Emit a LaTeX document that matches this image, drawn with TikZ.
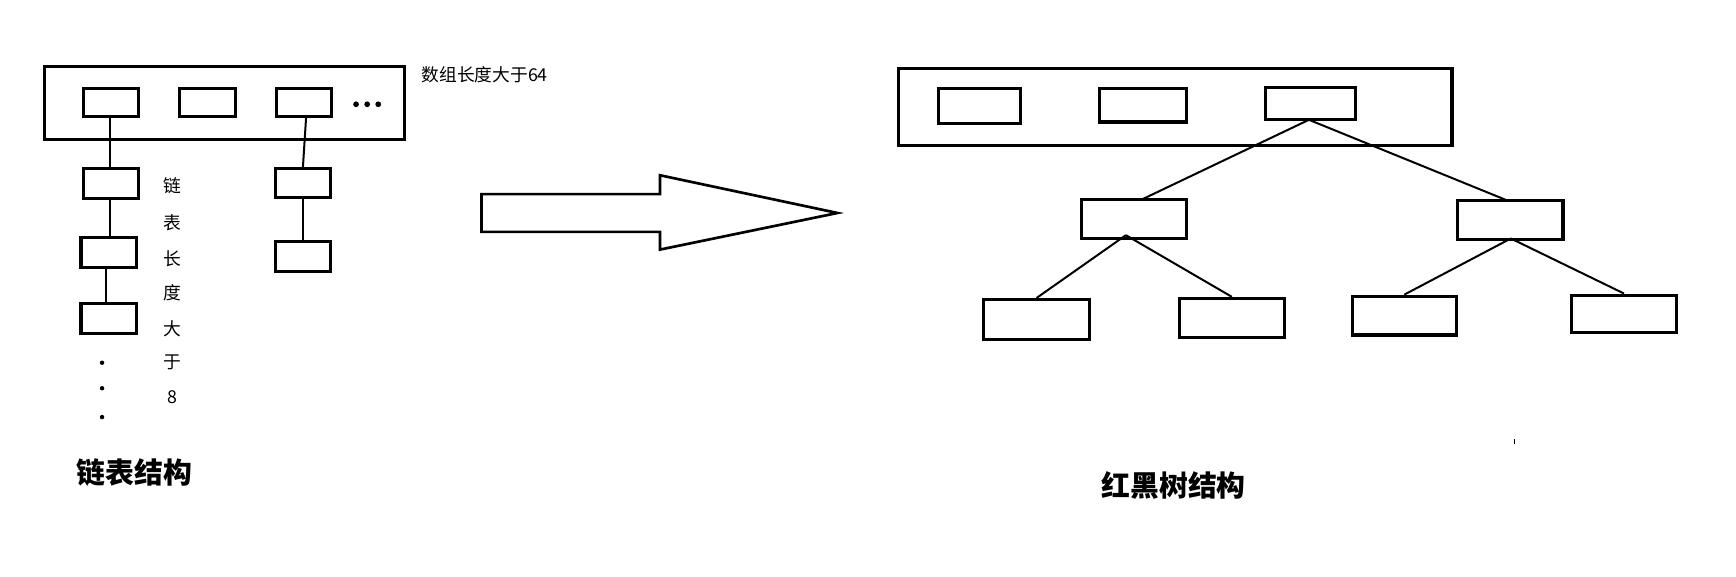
\documentclass[tikz,border=0pt]{standalone}
\usepackage{fontspec}
\newfontfamily\cjk{Noto Sans CJK SC}
\begin{document}
\begin{tikzpicture}[x=0.5pt,y=-0.5pt,
 box/.style={draw,line width=1.4pt},
 ln/.style={line width=0.9pt},
 dotc/.style={circle,fill,inner sep=0pt,minimum size=2pt},
 bigdot/.style={circle,fill,inner sep=0pt,minimum size=2.6pt}]
\useasboundingbox (0,0) rectangle (1565,520);
% left
\draw[box] (40,60) rectangle (365,126);
\draw[box] (75,80) rectangle (125,105);
\draw[box] (162,80) rectangle (212,105);
\draw[box] (249,80) rectangle (299,105);
\foreach \x/\n in {321/e1,331/e2,341/e3} \node[bigdot] (\n) at (\x,94) {};
\node[font=\cjk\fontsize{8}{9}\selectfont,anchor=west] (lbl) at (373,67) {数组长度大于64};
\node[box,minimum width=25pt,minimum height=13.5pt,inner sep=0pt] (c1) at (100,165.5) {};
\node[box,minimum width=25pt,minimum height=13.5pt,inner sep=0pt] (c2) at (98,227.5) {};
\node[box,minimum width=25pt,minimum height=13.5pt,inner sep=0pt] (c3) at (98,287.5) {};
\coordinate (t1) at (99,105);
\draw[ln] (t1) -- (c1.north -| t1);
\draw[ln] (c1.south -| 99,0) -- (c2.north -| 99,0);
\draw[ln] (c2.south -| 96,0) -- (c3.north -| 96,0);
\node[box,minimum width=25pt,minimum height=13pt,inner sep=0pt] (d1) at (273,165) {};
\node[box,minimum width=25pt,minimum height=13.5pt,inner sep=0pt] (d2) at (273,231.5) {};
\coordinate (t2) at (276,105);
\draw[ln] (t2) -- (273,152);
\draw[ln] (d1.south) -- (d2.north);
\foreach \y/\n in {327/p1,350/p2,376/p3} \node[dotc] (\n) at (92,\y) {};
\foreach \t/\y [count=\i] in {链/167,表/201,长/233,度/264,大/296,于/327,8/358}
  \node[font=\cjk\fontsize{8}{9}\selectfont] (v\i) at (155,\y) {\t};
\node[font=\cjk\bfseries\fontsize{13}{15}\selectfont] (cap1) at (121,426) {链表结构};
% arrow
\draw[line width=1.2pt] (434,175) -- (595,175) -- (595,158) -- (755,192) -- (595,225) -- (595,209) -- (434,209) -- cycle;
% right
\draw[box] (810,62) rectangle (1309,131);
\draw[box] (846,80) rectangle (920,111);
\draw[box] (991,80) rectangle (1070,110);
\draw[box] (1141,79) rectangle (1222,108);
\coordinate (r) at (1180,108);
\node[box,minimum width=47.5pt,minimum height=17.5pt,inner sep=0pt] (n1) at (1022.5,197.5) {};
\node[box,minimum width=47.5pt,minimum height=17.5pt,inner sep=0pt] (n2) at (1361.5,198.5) {};
\node[box,minimum width=47.5pt,minimum height=18pt,inner sep=0pt] (l1) at (934.5,288) {};
\node[box,minimum width=47.5pt,minimum height=17.5pt,inner sep=0pt] (l2) at (1110.5,286.5) {};
\node[box,minimum width=47pt,minimum height=17.5pt,inner sep=0pt] (l3) at (1266,284.5) {};
\node[box,minimum width=47pt,minimum height=17pt,inner sep=0pt] (l4) at (1464,283) {};
\draw[ln] (r) -- (1029,180);
\draw[ln] (r) -- (1357,180);
\coordinate (m1) at (1015,212);
\coordinate (m2) at (1362,215);
\draw[ln] (m1) -- (l1.north);
\draw[ln] (m1) -- (l2.north);
\draw[ln] (m2) -- (l3.north);
\draw[ln] (m2) -- (l4.north);
\fill (1364.5,396) rectangle (1366,400);
\node[font=\cjk\bfseries\fontsize{13}{15}\selectfont] (cap2) at (1058,438) {红黑树结构};
\end{tikzpicture}
\end{document}
